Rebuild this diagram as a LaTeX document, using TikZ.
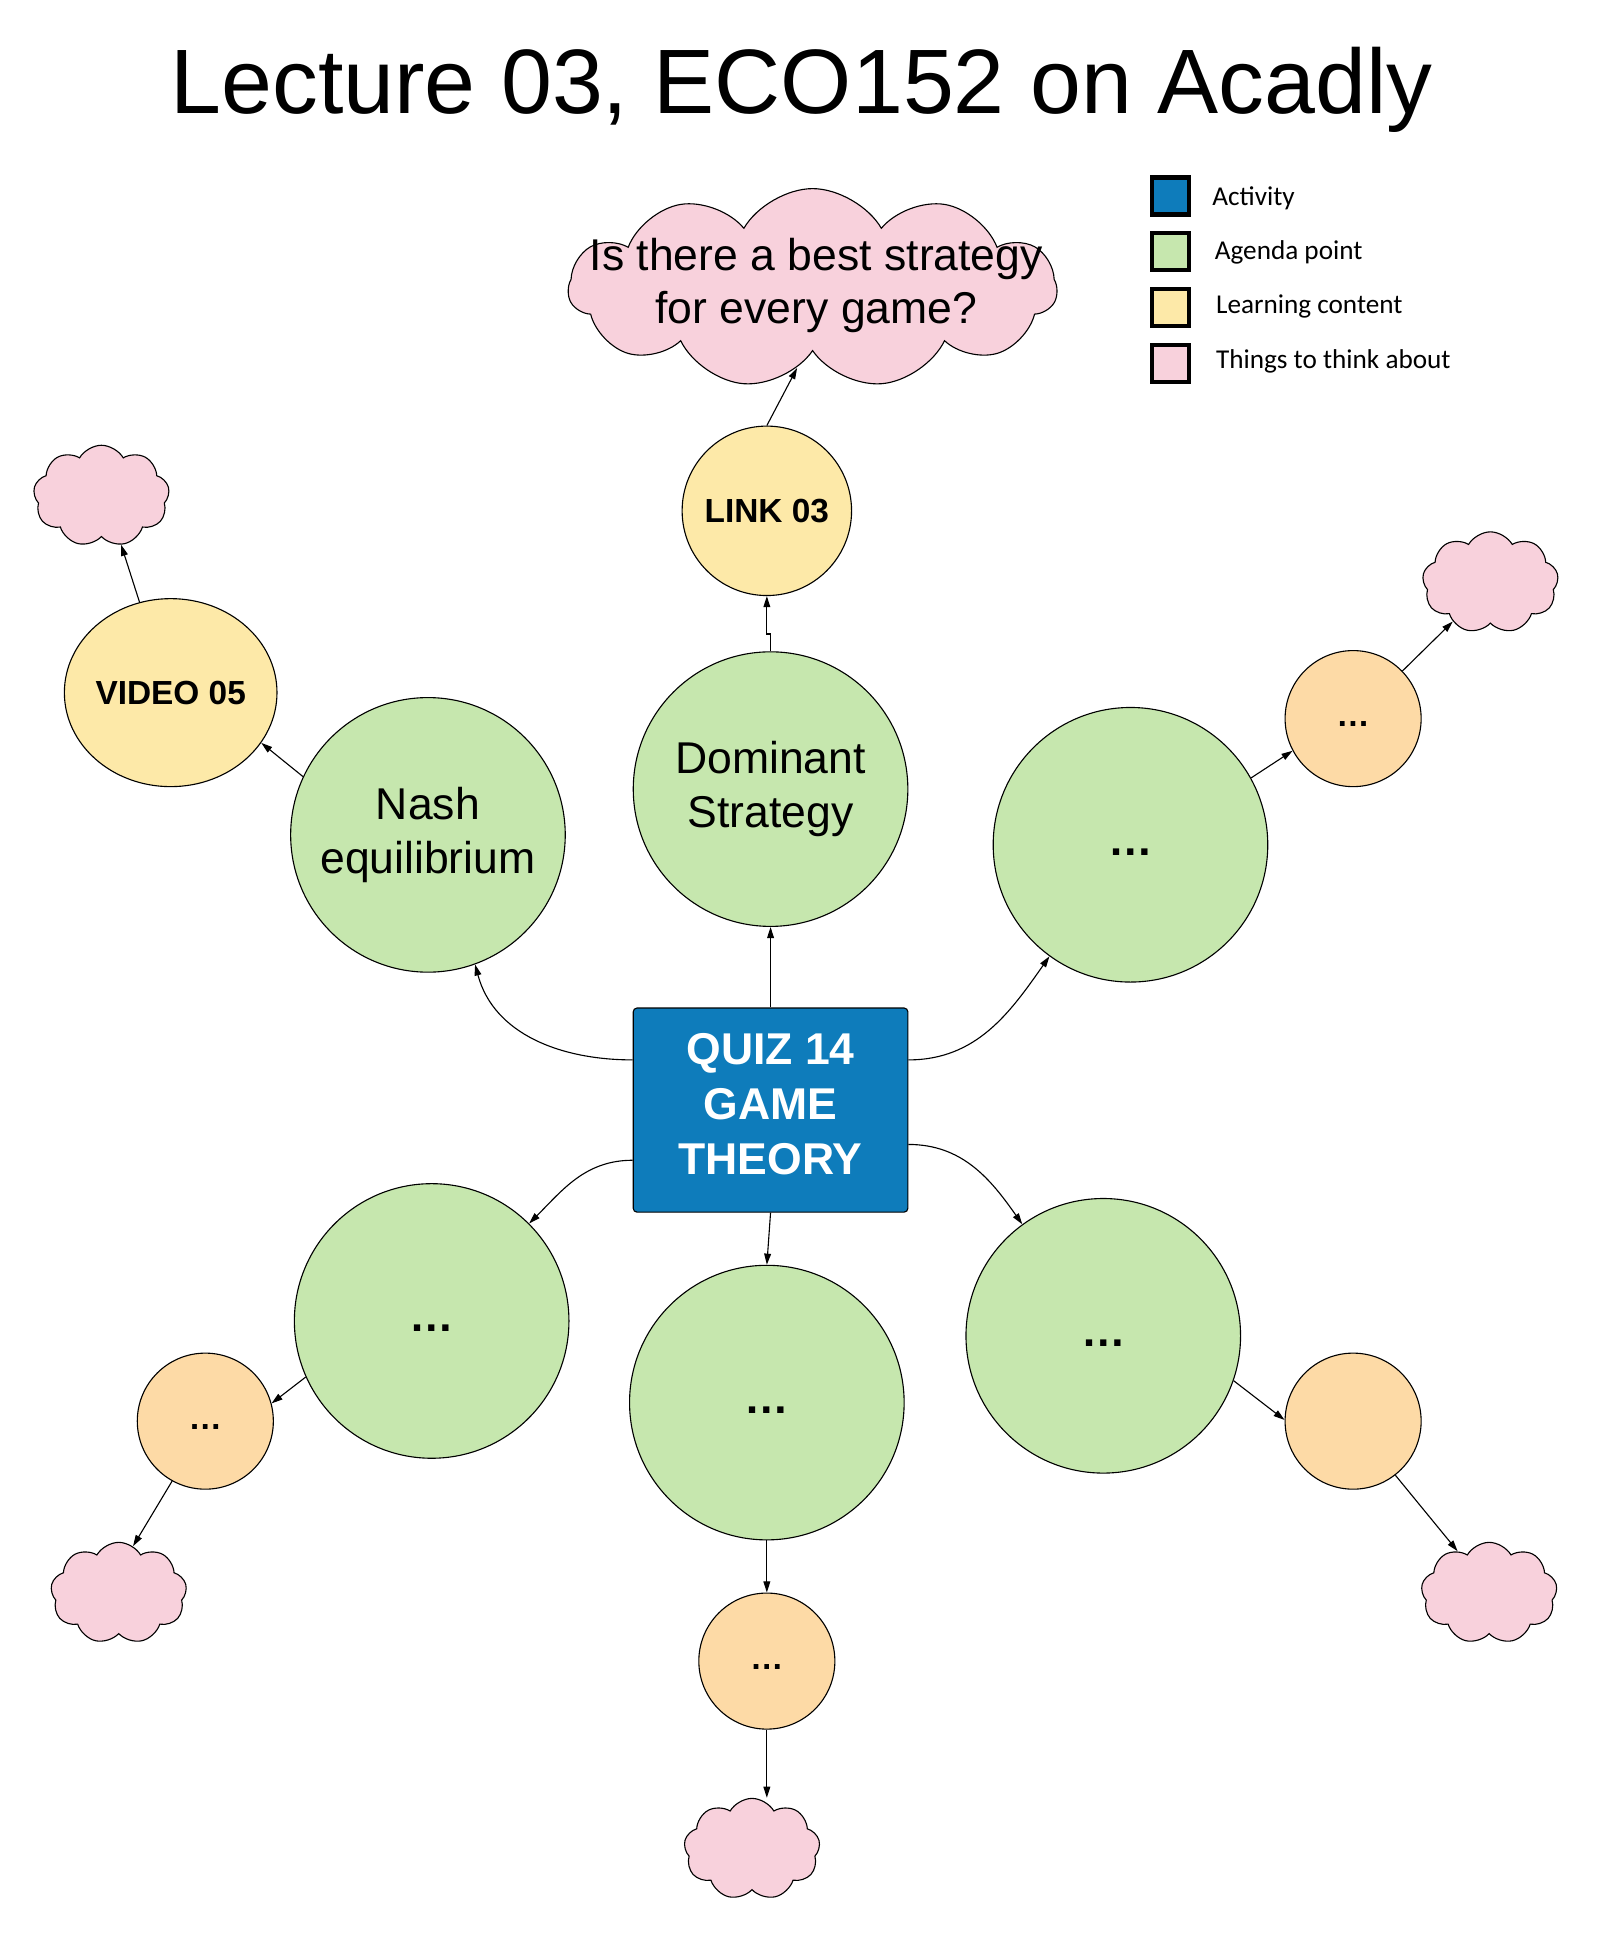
\documentclass[tikz,border=0pt]{standalone}
\usepackage{fontspec}
\setmainfont{Liberation Sans}
\newfontfamily\legendfont{Carlito}
\usetikzlibrary{shapes.geometric,shapes.symbols,arrows.meta}
\definecolor{actblue}{HTML}{0E7CBB}
\definecolor{agendagreen}{HTML}{C6E7AE}
\definecolor{contentyellow}{HTML}{FDE9A8}
\definecolor{extraorange}{HTML}{FDDAA6}
\definecolor{thinkpink}{HTML}{F8D1DC}
\begin{document}
\begin{tikzpicture}[x=1pt,y=-1pt,
 every node/.style={inner sep=0pt},
 bubble/.style={circle,draw=black,line width=0.9pt},
 agenda/.style={bubble,fill=agendagreen,minimum size=222pt,font=\fontsize{36}{44}\selectfont,align=center},
 dots/.style={font=\bfseries\fontsize{36}{44}\selectfont},
 content/.style={bubble,fill=contentyellow,minimum size=137pt,font=\bfseries\fontsize{27}{32}\selectfont},
 extra/.style={bubble,fill=extraorange,minimum size=110pt,font=\bfseries\fontsize{27}{32}\selectfont},
 think/.style={cloud,cloud puffs=9,cloud puff arc=120,draw=black,line width=0.9pt,fill=thinkpink,minimum width=110pt,minimum height=82pt,aspect=1.35},
 arr/.style={-{Triangle[length=9pt,width=5.5pt]},line width=0.9pt},
 legbox/.style={draw=black,line width=3.5pt,minimum size=30pt},
 legtext/.style={anchor=west,font=\legendfont\fontsize{22}{26}\selectfont}
]
\useasboundingbox (0,0) rectangle (1293.6,1567.7);

% title
\node[anchor=base,font=\fontsize{74}{80}\selectfont] (title) at (648,92) {Lecture 03, ECO152 on Acadly};

% legend
\node[legbox,fill=actblue] (lg1) at (946.5,158.5) {};
\node[legbox,fill=agendagreen] (lg2) at (946.5,203.5) {};
\node[legbox,fill=contentyellow] (lg3) at (946.5,248.5) {};
\node[legbox,fill=thinkpink] (lg4) at (946.5,294) {};
\node[legtext] (lt1) at (980,160) {Activity};
\node[legtext] (lt2) at (982,204) {Agenda point};
\node[legtext] (lt3) at (983,248) {Learning content};
\node[legtext] (lt4) at (983,292) {Things to think about};

% central activity
\node[rectangle,draw=black,line width=0.9pt,rounded corners=3pt,fill=actblue,
      minimum width=222pt,minimum height=165pt] (quiz) at (623,897.5) {};
\node[align=center,text=white,font=\bfseries\fontsize{36}{44.5}\selectfont] (quiztext) at (623,892.5) {QUIZ 14\\GAME\\THEORY};

% agenda points
\node[agenda] (nash) at (346,675) {Nash\\equilibrium};
\node[agenda] (dom) at (623,638) {Dominant\\Strategy};
\node[agenda,dots] (gr) at (914,683) {\strut …};
\node[agenda,dots] (gbl) at (349,1068) {\strut …};
\node[agenda,dots] (gbm) at (620,1134) {\strut …};
\node[agenda,dots] (gbr) at (892,1080) {\strut …};

% learning content
\node[content] (link) at (620,413) {LINK 03};
\node[ellipse,draw=black,line width=0.9pt,fill=contentyellow,minimum width=166pt,minimum height=152pt,
      font=\bfseries\fontsize{27}{32}\selectfont] (video) at (138,560) {VIDEO 05};

% extra content
\node[extra] (otr) at (1094,581) {\strut …};
\node[extra] (obl) at (166,1149) {\strut …};
\node[extra] (obm) at (620,1343) {\strut …};
\node[extra] (obr) at (1094,1149) {};

% things to think about
\node[think,cloud puffs=11,minimum width=395pt,minimum height=161pt,aspect=2.45] (bigcloud) at (657,233) {};
\node[align=center,font=\fontsize{36}{43}\selectfont] (question) at (660,231) {Is there a best strategy\\for every game?};
\node[think] (ctl) at (82,401) {};
\node[think] (ctr) at (1205,471) {};
\node[think] (cbl) at (96,1288) {};
\node[think] (cbm) at (608,1495) {};
\node[think] (cbr) at (1204,1288) {};

% connectors
\draw[arr] (link.north) -- (bigcloud.259);
\draw[arr] (dom.north) -- ++(0,-14) -| (link.south);
\draw[arr] (video.109) -- (ctl.-68);
\draw[arr] (nash.155) -- (video.-29);
\draw[arr] (quiz.160) to[out=180,in=-75] (nash.-70);
\draw[arr] (quiz.north) -- (dom.south);
\draw[arr] (quiz.20) to[out=0,in=235] (gr.-126);
\draw[arr] (gr.29) -- (otr.208);
\draw[arr] (otr.44) -- (ctr.226);
\draw[arr] (quiz.200) to[out=180,in=45] (gbl.45);
\draw[arr] (quiz.south) -- (gbm.north);
\draw[arr] (quiz.-14) to[out=0,in=125] (gbr.126);
\draw[arr] (gbl.204) -- (obl.15);
\draw[arr] (obl.241) -- (cbl.73);
\draw[arr] (gbm.south) -- (obm.north);
\draw[arr] (obm.south) -- (obm.south |- cbm.north);
\draw[arr] (gbr.-19) -- (obr.179);
\draw[arr] (obr.-52) -- (cbr.127);
\end{tikzpicture}
\end{document}
